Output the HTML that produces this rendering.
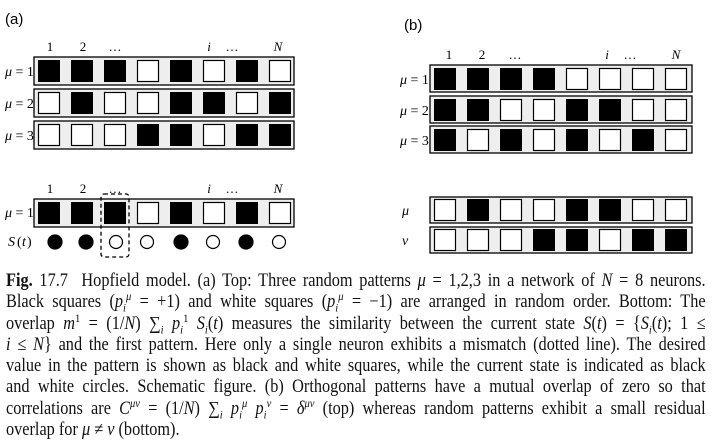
<!DOCTYPE html>
<html><head><meta charset="utf-8"><style>
html,body{margin:0;padding:0;background:#fff;width:718px;height:442px;overflow:hidden;position:relative}
svg{position:absolute;left:0;top:0}
.cap{position:absolute;left:6px;width:795px;transform:scaleX(0.88);transform-origin:0 0;font-family:"Liberation Serif",serif;font-size:18.5px;line-height:21.3px;top:271px;color:#111}
.cap div{text-align:justify;text-align-last:justify;white-space:nowrap;height:21.3px}
.cap div.last{text-align-last:left}
i{font-style:italic}
sup,sub{font-size:12px;line-height:0}
</style></head><body>
<svg width="718" height="442" xmlns="http://www.w3.org/2000/svg" font-family="Liberation Serif, serif">
<defs>
<rect id="B" width="22" height="22" fill="#000"/>
<rect id="W" width="21" height="21" x="0.5" y="0.5" fill="#fff" stroke="#000" stroke-width="1.2"/>
</defs>
<text x="5" y="24" font-family="Liberation Sans, sans-serif" font-size="15">(a)</text>
<text x="404" y="30" font-family="Liberation Sans, sans-serif" font-size="15">(b)</text>
<g font-size="13" text-anchor="middle">
<text x="50" y="51">1</text><text x="83" y="51">2</text><text x="115" y="51">…</text><text x="209" y="51" font-style="italic">i</text><text x="232" y="51">…</text><text x="278" y="51" font-style="italic">N</text>
<text x="50" y="193">1</text><text x="83" y="193">2</text><text x="115" y="193">…</text><text x="209" y="193" font-style="italic">i</text><text x="232" y="193">…</text><text x="278" y="193" font-style="italic">N</text>
<text x="449" y="59">1</text><text x="482" y="59">2</text><text x="515" y="59">…</text><text x="607" y="59" font-style="italic">i</text><text x="630" y="59">…</text><text x="676" y="59" font-style="italic">N</text>
</g>
<g font-size="14">
<text x="5" y="76"><tspan font-style="italic">μ</tspan> = 1</text>
<text x="5" y="108"><tspan font-style="italic">μ</tspan> = 2</text>
<text x="5" y="140"><tspan font-style="italic">μ</tspan> = 3</text>
<text x="5" y="217"><tspan font-style="italic">μ</tspan> = 1</text>
<text x="8" y="246" font-style="italic">S</text><text x="17" y="246">(</text><text x="22" y="246" font-style="italic">t</text><text x="27" y="246">)</text>
<text x="400" y="84"><tspan font-style="italic">μ</tspan> = 1</text>
<text x="400" y="115"><tspan font-style="italic">μ</tspan> = 2</text>
<text x="400" y="145"><tspan font-style="italic">μ</tspan> = 3</text>
<text x="402" y="215" font-style="italic">μ</text>
<text x="402" y="245" font-style="italic">ν</text>
</g>
<g fill="#eee" stroke="#000" stroke-width="1.3">
<rect x="34" y="57" width="260" height="28"/>
<rect x="34" y="89" width="260" height="28"/>
<rect x="34" y="121" width="260" height="28"/>
<rect x="34" y="199" width="260" height="28"/>
<rect x="430" y="65" width="262" height="27"/>
<rect x="430" y="96" width="262" height="27"/>
<rect x="430" y="126" width="262" height="27"/>
<rect x="430" y="197" width="262" height="26"/>
<rect x="430" y="227" width="262" height="26"/>
</g>
<g transform="translate(0,60)"><use href="#B" x="38"/><use href="#B" x="71"/><use href="#B" x="104"/><use href="#W" x="137"/><use href="#B" x="170"/><use href="#W" x="203"/><use href="#B" x="236"/><use href="#W" x="269"/></g>
<g transform="translate(0,92)"><use href="#W" x="38"/><use href="#B" x="71"/><use href="#W" x="104"/><use href="#W" x="137"/><use href="#B" x="170"/><use href="#B" x="203"/><use href="#W" x="236"/><use href="#B" x="269"/></g>
<g transform="translate(0,124)"><use href="#W" x="38"/><use href="#W" x="71"/><use href="#W" x="104"/><use href="#B" x="137"/><use href="#B" x="170"/><use href="#W" x="203"/><use href="#B" x="236"/><use href="#B" x="269"/></g>
<g transform="translate(0,202)"><use href="#B" x="38"/><use href="#B" x="71"/><use href="#B" x="104"/><use href="#W" x="137"/><use href="#B" x="170"/><use href="#W" x="203"/><use href="#B" x="236"/><use href="#W" x="269"/></g>
<g stroke="#000" stroke-width="1.2">
<circle cx="55" cy="242" r="7"/><circle cx="86" cy="242" r="7"/><circle cx="116" cy="242" r="6.5" fill="#fff"/><circle cx="147" cy="242" r="6.5" fill="#fff"/><circle cx="181" cy="242" r="7"/><circle cx="213" cy="242" r="6.5" fill="#fff"/><circle cx="246" cy="242" r="7"/><circle cx="279" cy="242" r="6.5" fill="#fff"/>
</g>
<rect x="101" y="194" width="28" height="63" rx="3" fill="none" stroke="#000" stroke-width="1.3" stroke-dasharray="4,3"/>
<g transform="translate(0,68)"><use href="#B" x="434"/><use href="#B" x="467"/><use href="#B" x="500"/><use href="#B" x="533"/><use href="#W" x="566"/><use href="#W" x="599"/><use href="#W" x="632"/><use href="#W" x="665"/></g>
<g transform="translate(0,99)"><use href="#B" x="434"/><use href="#B" x="467"/><use href="#W" x="500"/><use href="#W" x="533"/><use href="#B" x="566"/><use href="#B" x="599"/><use href="#W" x="632"/><use href="#W" x="665"/></g>
<g transform="translate(0,129)"><use href="#B" x="434"/><use href="#W" x="467"/><use href="#B" x="500"/><use href="#W" x="533"/><use href="#B" x="566"/><use href="#W" x="599"/><use href="#B" x="632"/><use href="#W" x="665"/></g>
<g transform="translate(0,199)"><use href="#W" x="434"/><use href="#B" x="467"/><use href="#W" x="500"/><use href="#W" x="533"/><use href="#B" x="566"/><use href="#B" x="599"/><use href="#W" x="632"/><use href="#W" x="665"/></g>
<g transform="translate(0,229)"><use href="#W" x="434"/><use href="#W" x="467"/><use href="#W" x="500"/><use href="#B" x="533"/><use href="#B" x="566"/><use href="#W" x="599"/><use href="#B" x="632"/><use href="#B" x="665"/></g>
</svg>
<div class="cap">
<div><b>Fig.</b> 17.7&nbsp; Hopfield model. (a) Top: Three random patterns <i>μ</i> = 1,2,3 in a network of <i>N</i> = 8 neurons.</div>
<div>Black squares (<i>p</i><sub><i>i</i></sub><sup><i>μ</i></sup> = +1) and white squares (<i>p</i><sub><i>i</i></sub><sup><i>μ</i></sup> = −1) are arranged in random order. Bottom: The</div>
<div>overlap <i>m</i><sup>1</sup> = (1/<i>N</i>) ∑<sub><i>i</i></sub> <i>p</i><sub><i>i</i></sub><sup>1</sup> <i>S</i><sub><i>i</i></sub>(<i>t</i>) measures the similarity between the current state <i>S</i>(<i>t</i>) = {<i>S</i><sub><i>i</i></sub>(<i>t</i>); 1 ≤</div>
<div><i>i</i> ≤ <i>N</i>} and the first pattern. Here only a single neuron exhibits a mismatch (dotted line). The desired</div>
<div>value in the pattern is shown as black and white squares, while the current state is indicated as black</div>
<div>and white circles. Schematic figure. (b) Orthogonal patterns have a mutual overlap of zero so that</div>
<div>correlations are <i>C</i><sup><i>μν</i></sup> = (1/<i>N</i>) ∑<sub><i>i</i></sub> <i>p</i><sub><i>i</i></sub><sup><i>μ</i></sup> <i>p</i><sub><i>i</i></sub><sup><i>ν</i></sup> = <i>δ</i><sup><i>μν</i></sup> (top) whereas random patterns exhibit a small residual</div>
<div class="last">overlap for <i>μ</i> ≠ <i>ν</i> (bottom).</div>
</div>
</body></html>
